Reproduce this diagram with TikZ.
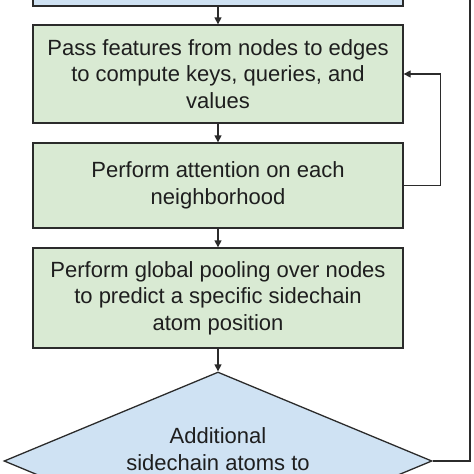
\documentclass[tikz,border=0pt]{standalone}
\usepackage{fontspec}
\setmainfont{Liberation Sans}
\usetikzlibrary{arrows.meta,shapes.geometric}
\definecolor{boxgreen}{HTML}{D9EAD3}
\definecolor{boxblue}{HTML}{CFE2F3}
\definecolor{edgecol}{HTML}{2B2B2B}
\definecolor{txtcol}{HTML}{1E1E1E}
\tikzset{
  procbox/.style={draw=edgecol, line width=1.3pt, fill=boxgreen, rectangle,
    minimum width=370pt, inner sep=0pt, align=center, text=txtcol,
    font=\fontsize{22}{26.5}\selectfont},
  startbox/.style={draw=edgecol, line width=1.3pt, fill=boxblue, rectangle,
    minimum width=370pt, minimum height=60pt, inner sep=0pt},
  decis/.style={draw=edgecol, line width=1.3pt, fill=boxblue, diamond,
    minimum width=428pt, minimum height=178pt, inner sep=0pt},
  lbl/.style={text=txtcol, align=center, inner sep=0pt,
    font=\fontsize{22}{27}\selectfont},
  arr/.style={draw=edgecol, line width=1.3pt, -{Triangle[length=7pt,width=7pt]}},
  ln/.style={draw=edgecol, line width=1.3pt},
}
\begin{document}
\begin{tikzpicture}[x=1pt,y=-1pt]
\useasboundingbox (0,0) rectangle (474,474);
\clip (0,0) rectangle (474,474);
\node[startbox] (top) at (218,-24) {};
\node[procbox, minimum height=98pt] (b1) at (218,74) {Pass features from nodes to edges\\to compute keys, queries, and\\values};
\node[procbox, minimum height=85pt] (b2) at (218,185.5) {Perform attention on each\\neighborhood};
\node[procbox, minimum height=100pt] (b3) at (218,298) {Perform global pooling over nodes\\to predict a specific sidechain\\atom position};
\node[decis] (d) at (218,461) {};
\node[lbl, anchor=base] (dt1) at (218,443) {Additional};
\node[lbl, anchor=base] (dt2) at (218,470) {sidechain atoms to};
\coordinate (outr) at (470,461);
\coordinate (outtop) at (470,-20);
\draw[arr] (top.south) -- (b1.north);
\draw[arr] (b1.south) -- (b2.north);
\draw[arr] (b2.south) -- (b3.north);
\draw[arr] (b3.south) -- (d.north);
\draw[arr] (b2.east) -- ++(37,0) |- (b1.east);
\draw[ln] (d.east) -- (outr) -- (outtop);
\end{tikzpicture}
\end{document}
